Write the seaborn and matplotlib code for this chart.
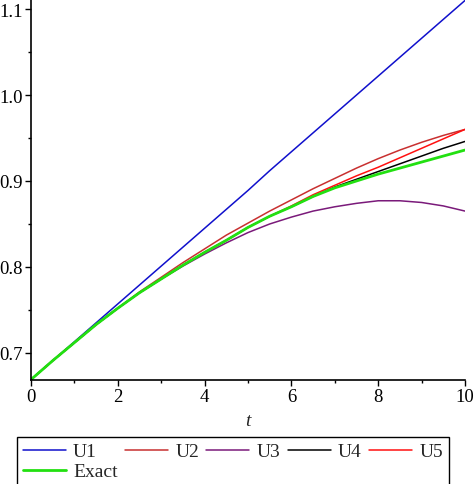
import numpy as np
import pandas as pd
import matplotlib
matplotlib.use("Agg")
import matplotlib.pyplot as plt
from matplotlib.ticker import MultipleLocator
import seaborn as sns

t = [0, 0.5, 1, 1.5, 2, 2.5, 3, 3.5, 4, 4.5, 5, 5.5, 6, 6.5, 7, 7.5, 8, 8.5, 9, 9.5, 10]

u1 = [0.669, 0.691, 0.713, 0.735, 0.757, 0.779, 0.801, 0.823, 0.845, 0.867, 0.889,
      0.912, 0.934, 0.956, 0.978, 1.000, 1.022, 1.044, 1.066, 1.088, 1.110]
u2 = [0.669, 0.691, 0.712, 0.733, 0.752, 0.771, 0.788, 0.805, 0.821, 0.837, 0.851,
      0.865, 0.878, 0.891, 0.903, 0.915, 0.926, 0.936, 0.945, 0.953, 0.960]
u3 = [0.669, 0.691, 0.712, 0.733, 0.752, 0.770, 0.786, 0.801, 0.815, 0.828, 0.840,
      0.850, 0.858, 0.865, 0.870, 0.874, 0.877, 0.877, 0.875, 0.871, 0.865]
u4 = [0.669, 0.691, 0.712, 0.733, 0.752, 0.770, 0.786, 0.802, 0.817, 0.831, 0.846,
      0.859, 0.870, 0.882, 0.893, 0.902, 0.911, 0.920, 0.929, 0.938, 0.946]
u5 = [0.669, 0.691, 0.712, 0.733, 0.752, 0.770, 0.786, 0.802, 0.817, 0.831, 0.846,
      0.859, 0.871, 0.884, 0.895, 0.906, 0.916, 0.927, 0.938, 0.949, 0.960]
exact = [0.669, 0.691, 0.712, 0.733, 0.752, 0.770, 0.786, 0.802, 0.817, 0.831, 0.846,
         0.859, 0.870, 0.882, 0.892, 0.900, 0.908, 0.915, 0.922, 0.929, 0.936]

series = {"U1": u1, "U2": u2, "U3": u3, "U4": u4, "U5": u5, "Exact": exact}
colors = {"U1": "#1010cc", "U2": "#c83030", "U3": "#7a1a7a", "U4": "#000000",
          "U5": "#ff1010", "Exact": "#22e011"}
widths = {"U1": 1.1, "U2": 1.1, "U3": 1.1, "U4": 1.1, "U5": 1.1, "Exact": 2.0}

sns.set_style("ticks")
plt.rcParams["font.family"] = ["Liberation Serif", "DejaVu Serif"]
plt.rcParams["mathtext.fontset"] = "stix"

fig = plt.figure(figsize=(4.74, 4.85), dpi=100)
ax = fig.add_axes([31 / 474, 104 / 485, 434 / 474, 381 / 485])

handles = {}
for name in ["U1", "U2", "U3", "U4", "U5", "Exact"]:
    df = pd.DataFrame({"t": t, "v": series[name]})
    sns.lineplot(data=df, x="t", y="v", ax=ax, color=colors[name],
                 linewidth=widths[name], label=name, legend=False)
    handles[name] = ax.lines[-1]

ax.set_xlim(0, 10)
ax.set_ylim(0.6685, 1.1117)
ax.xaxis.set_major_locator(MultipleLocator(2))
ax.xaxis.set_minor_locator(MultipleLocator(1))
ax.yaxis.set_major_locator(MultipleLocator(0.1))
ax.yaxis.set_minor_locator(MultipleLocator(0.05))
ax.yaxis.set_major_formatter(matplotlib.ticker.FormatStrFormatter("%.1f"))
ax.xaxis.set_major_formatter(matplotlib.ticker.FormatStrFormatter("%d"))
for s in ["top", "right"]:
    ax.spines[s].set_visible(False)
for s in ["left", "bottom"]:
    ax.spines[s].set_linewidth(1.2)
    ax.spines[s].set_color("black")
ax.tick_params(axis="both", which="major", length=4, width=1, labelsize=13.5, pad=2, colors="black")
ax.tick_params(axis="both", which="minor", length=2.5, width=1, colors="black")
ax.set_xlabel("t", fontsize=14, style="italic", labelpad=5)
ax.set_ylabel("")

order = ["U1", "Exact", "U2", "U3", "U4", "U5"]
leg = fig.legend([handles[n] for n in order], order, ncol=5,
                 loc="upper left", bbox_to_anchor=(17 / 474, 1 - 438 / 485),
                 bbox_transform=fig.transFigure, fontsize=14, frameon=True,
                 fancybox=False, edgecolor="black", borderaxespad=0,
                 handlelength=2.2, handletextpad=0.38, columnspacing=0.38,
                 labelspacing=0.12, borderpad=0.3)
leg.get_frame().set_linewidth(1.0)
leg.get_frame().set_alpha(1)

fig.savefig("out.png", dpi=100)
